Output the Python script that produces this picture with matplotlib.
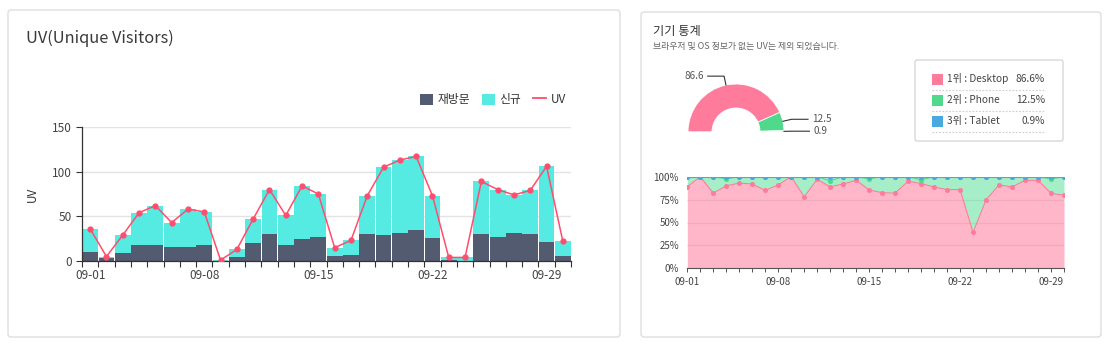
import matplotlib.pyplot as plt
import numpy as np
from matplotlib.patches import FancyBboxPatch, Rectangle
from matplotlib.lines import Line2D

plt.rcParams['font.family'] = ['Noto Sans CJK KR', 'DejaVu Sans']

# ---- data ----
dates = ['09-%02d' % d for d in range(1, 31)]
revisit = [10, 3, 9, 18, 18, 16, 16, 18, 0, 4, 20, 30, 18, 25, 27,
           6, 7, 30, 29, 31, 35, 26, 1, 0, 30, 27, 31, 30, 21, 6]
new_visit = [26, 2, 20, 36, 44, 27, 42, 37, 1, 9, 27, 50, 33, 59, 48,
             9, 16, 43, 76, 82, 82, 47, 3, 4, 59, 53, 43, 49, 85, 16]
uv = [36, 5, 29, 54, 62, 43, 58, 55, 1, 13, 47, 80, 51, 84, 75,
      15, 23, 73, 105, 113, 117, 73, 4, 4, 89, 80, 74, 79, 106, 22]

devices = ['Desktop', 'Phone', 'Tablet']
device_share = [86.6, 12.5, 0.9]

desktop_pct = [89, 100, 82, 90, 93, 92, 85, 91, 100, 78, 97, 89, 92, 96, 85.5,
               82.5, 82, 95, 92.5, 88.7, 85.8, 86, 39.3, 74.5, 91, 88.7, 96, 96, 82, 79.6]
phone_pct = [11, 0, 18, 7.5, 7, 8, 15, 9, 0, 22, 3, 6.5, 8, 4, 12,
             17.5, 18, 5, 4, 11.3, 14.2, 14, 60.7, 25.5, 9, 11.3, 4, 4, 15.5, 20.4]
tablet_pct = [0, 0, 0, 2.5, 0, 0, 0, 0, 0, 0, 0, 4.5, 0, 0, 2.5,
              0, 0, 0, 3.5, 0, 0, 0, 0, 0, 0, 0, 0, 0, 2.5, 0]

label_idx = [0, 7, 14, 21, 28]

C_DARK = '#535b70'
C_CYAN = '#55ebe3'
C_UV = '#ff4d6d'
C_PINK = '#ff7b9c'
C_GREEN = '#4fd98b'
C_BLUE = '#4aa9de'
TXT = '#444444'

W, H = 1113, 345
fig = plt.figure(figsize=(W / 100, H / 100), dpi=100)

# background layer in pixel coordinates
bg = fig.add_axes([0, 0, 1, 1])
bg.set_xlim(0, W)
bg.set_ylim(H, 0)
bg.axis('off')
for x0, y0, x1, y1 in [(8, 10, 620, 337), (641, 12, 1101, 337)]:
    bg.add_patch(FancyBboxPatch((x0, y0), x1 - x0, y1 - y0,
                                boxstyle='round,pad=0,rounding_size=3',
                                fc='white', ec='#dedede', lw=1))
bg.text(26, 38, 'UV(Unique Visitors)', fontsize=11.8, color='#3a3a3a', va='center')
bg.text(653, 32, '기기 통계', fontsize=8.8, color='#333333', va='center', fontweight='medium')
bg.text(653, 46, '브라우저 및 OS 정보가 없는 UV는 제외 되었습니다.', fontsize=6.4,
        color='#666666', va='center')

# ---- left: stacked bars + UV line ----
x = np.arange(len(dates))
ax = fig.add_axes([82 / W, 1 - 261 / H, (571 - 82) / W, (261 - 127) / H])
b1 = ax.bar(x, revisit, width=0.97, color=C_DARK, zorder=2, label='재방문')
b2 = ax.bar(x, new_visit, width=0.97, bottom=revisit, color=C_CYAN, zorder=2, label='신규')
l1, = ax.plot(x, uv, color=C_UV, lw=1.1, marker='o', ms=3.5, zorder=3, label='UV')
ax.set_xlim(-0.5, len(dates) - 0.5)
ax.set_ylim(0, 150)
ax.set_yticks([0, 50, 100, 150])
ax.grid(axis='y', color='#e3e3e3', lw=1, zorder=0)
ax.set_xticks(np.arange(-0.5, len(dates)), minor=False)
ax.set_xticklabels([])
ax.set_xticks(label_idx, minor=True)
ax.set_xticklabels([dates[i] for i in label_idx], minor=True)
ax.tick_params(axis='x', which='major', length=4, color='#333333', width=0.8)
ax.tick_params(axis='x', which='minor', length=0, labelsize=8.5, labelcolor=TXT, pad=6)
ax.tick_params(axis='y', length=4, color='#333333', width=0.8, labelsize=8.5, labelcolor=TXT)
for s in ['top', 'right']:
    ax.spines[s].set_visible(False)
for s in ['left', 'bottom']:
    ax.spines[s].set_color('#333333')
    ax.spines[s].set_linewidth(0.9)
ax.set_ylabel('UV', fontsize=8.5, color='#333333', labelpad=9)
uv_handle = Line2D([], [], color=C_UV, lw=1.3)
ax.legend([b1, b2, uv_handle], ['재방문', '신규', 'UV'], loc='lower right',
          bbox_to_anchor=(1.0, 1.12), ncol=3, frameon=False,
          fontsize=8.5, handlelength=1.1, handleheight=1.1, columnspacing=1.0,
          handletextpad=0.4, borderaxespad=0, labelcolor='#333333')

# ---- right: half donut ----
R = 48
pax = fig.add_axes([(736 - R) / W, 1 - (132 + R) / H, 2 * R / W, 2 * R / H])
vals = device_share + [sum(device_share)]
pax.pie(vals, colors=[C_PINK, C_GREEN, '#a9d9f2', 'none'], startangle=180,
        counterclock=False, radius=1,
        wedgeprops=dict(width=0.5, linewidth=0.6, edgecolor='white'))
pax.set_xlim(-1, 1)
pax.set_ylim(-1, 1)
pax.axis('off')
start = 180.0
for i, v in enumerate(device_share):
    mid = np.deg2rad(start - v * 1.8 / 2)
    start -= v * 1.8
    p1 = np.array([np.cos(mid), np.sin(mid)])
    p2 = p1 * 1.19
    side = 1 if p1[0] >= 0 else -1
    p3 = p2 + np.array([side * 0.34, 0])
    pax.plot([p1[0], p2[0], p3[0]], [p1[1], p2[1], p3[1]], color='#333333', lw=0.8,
             clip_on=False)
    pax.text(p3[0] + side * 0.08, p3[1], '%g' % v, fontsize=7.2, color='#555555',
             ha='left' if side > 0 else 'right', va='center', clip_on=False)

# device legend box
bg.add_patch(FancyBboxPatch((915, 60), 148, 81, boxstyle='round,pad=0,rounding_size=2',
                            fc='white', ec='#d8d8d8', lw=1))
for i, (name, share, col) in enumerate(zip(devices, device_share, [C_PINK, C_GREEN, C_BLUE])):
    yy = 79 + i * 21
    bg.add_patch(Rectangle((932, yy - 5.5), 11, 11, fc=col, ec='none'))
    bg.text(947, yy, '%d위 : %s' % (i + 1, name), fontsize=7.3, color='#444444', va='center')
    bg.text(1045, yy, '%.1f%%' % share, fontsize=7.3, color='#444444', va='center', ha='right')
    bg.add_line(Line2D([932, 1045], [yy + 10.5, yy + 10.5], color='#cccccc', lw=0.8,
                       linestyle=(0, (1.5, 1.5))))

# ---- right: stacked percent area ----
d = np.array(desktop_pct)
dp = d + np.array(phone_pct)
dpt = dp + np.array(tablet_pct)
rax = fig.add_axes([687.3 / W, 1 - 268.3 / H, (1064 - 687.3) / W, (268.3 - 176.7) / H])
rax.fill_between(x, 0, d, color='#ffb6c8', lw=0, zorder=1)
rax.fill_between(x, d, dp, color='#a6eec7', lw=0, zorder=1)
rax.fill_between(x, dp, dpt, color='#b5dcf2', lw=0, zorder=1)
rax.plot(x, d, color=C_PINK, lw=0.8, marker='o', ms=2.6, zorder=3)
rax.plot(x, dp, color=C_GREEN, lw=0.8, marker='o', ms=2.6, zorder=3)
rax.plot(x, dpt, color=C_BLUE, lw=0.8, marker='o', ms=2.6, zorder=4)
rax.set_xlim(0, len(dates) - 1)
rax.set_ylim(0, 100)
rax.set_yticks([0, 25, 50, 75, 100])
rax.set_yticklabels(['0%', '25%', '50%', '75%', '100%'])
rax.grid(axis='y', color='#000000', alpha=0.06, lw=0.9, zorder=2)
rax.set_axisbelow(False)
rax.set_xticks(x)
rax.set_xticklabels([dates[i] if i in label_idx else '' for i in x])
rax.tick_params(axis='x', length=3, color='#555555', width=0.7, labelsize=7,
                labelcolor=TXT, pad=3)
rax.tick_params(axis='y', length=0, labelsize=7, labelcolor=TXT, pad=6)
for s in ['top', 'right', 'left']:
    rax.spines[s].set_visible(False)
rax.spines['bottom'].set_color('#555555')
rax.spines['bottom'].set_linewidth(0.8)

fig.savefig('out.png', dpi=100)
